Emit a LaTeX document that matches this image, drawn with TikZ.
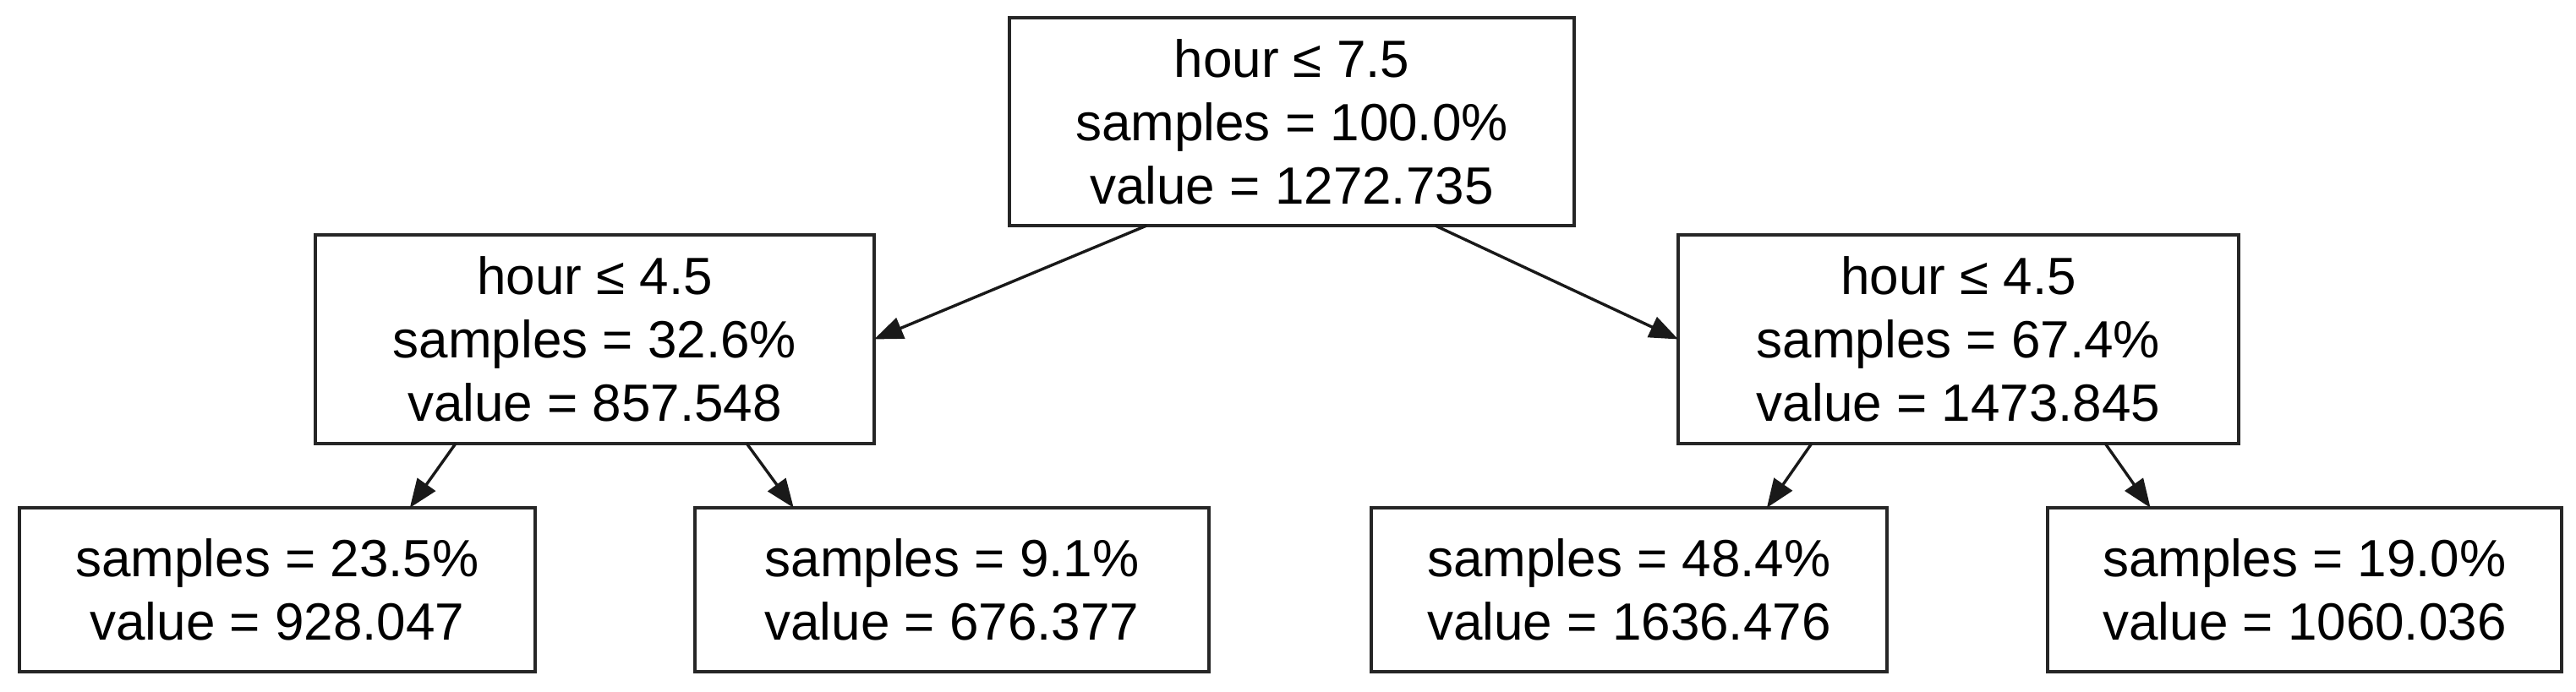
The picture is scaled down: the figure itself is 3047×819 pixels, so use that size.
\documentclass[tikz,border=0pt]{standalone}
\usepackage{fontspec}
\setmainfont{Liberation Sans}
\usetikzlibrary{arrows.meta,calc}
\begin{document}
\begin{tikzpicture}[x=0.5pt,y=-0.5pt,
  box/.style={draw=black!85,line width=2pt,rectangle,inner sep=0pt,outer sep=0pt,align=center,
    font=\fontsize{31}{37.5}\selectfont},
  edge/.style={draw=black!90,line width=1.7pt,-{Triangle[length=17pt,width=13pt]}}]
\useasboundingbox (0,0) rectangle (3047,819);
\node[box,minimum width=334pt,minimum height=123pt] (root) at (1528,144) {hour ≤ 7.5\\samples = 100.0\%\\value = 1272.735};
\node[box,minimum width=330.5pt,minimum height=123.5pt] (ml) at (703.5,401.5) {hour ≤ 4.5\\samples = 32.6\%\\value = 857.548};
\node[box,minimum width=331.5pt,minimum height=123.5pt] (mr) at (2316.5,401.5) {hour ≤ 4.5\\samples = 67.4\%\\value = 1473.845};
\node[box,minimum width=305pt,minimum height=97pt] (l1) at (328,698) {samples = 23.5\%\\value = 928.047};
\node[box,minimum width=304pt,minimum height=97pt] (l2) at (1126,698) {samples = 9.1\%\\value = 676.377};
\node[box,minimum width=305pt,minimum height=97pt] (l3) at (1927,698) {samples = 48.4\%\\value = 1636.476};
\node[box,minimum width=304pt,minimum height=97pt] (l4) at (2726,698) {samples = 19.0\%\\value = 1060.036};
\draw[edge] ($(root.south west)!0.243!(root.south east)$) -- (ml.east);
\draw[edge] ($(root.south west)!0.754!(root.south east)$) -- (mr.west);
\draw[edge] ($(ml.south west)!0.251!(ml.south east)$) -- ($(l1.north west)!0.757!(l1.north east)$);
\draw[edge] ($(ml.south west)!0.772!(ml.south east)$) -- ($(l2.north west)!0.192!(l2.north east)$);
\draw[edge] ($(mr.south west)!0.238!(mr.south east)$) -- ($(l3.north west)!0.767!(l3.north east)$);
\draw[edge] ($(mr.south west)!0.762!(mr.south east)$) -- ($(l4.north west)!0.2!(l4.north east)$);
\end{tikzpicture}
\end{document}
